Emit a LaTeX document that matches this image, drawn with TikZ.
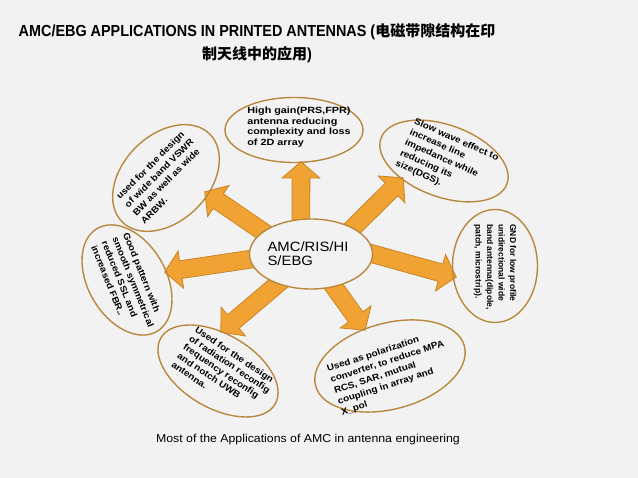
\documentclass[tikz,border=0pt]{standalone}
\usepackage{fontspec}
\setmainfont{Liberation Sans}
\newfontfamily\titlefont{Liberation Sans}[FakeStretch=0.9]
\newfontfamily\notefont{Liberation Sans}[FakeStretch=1.1]
\newfontfamily\widefont{Liberation Sans}[FakeStretch=1.2]
\newfontfamily\hubfont{Liberation Sans}[FakeStretch=1.1]
\newfontfamily\capfont{Liberation Sans}[FakeStretch=1.07]
\newfontfamily\cjk{Noto Sans CJK SC}
\usetikzlibrary{shapes.geometric,shapes.arrows,calc}

\definecolor{bgcol}{HTML}{F2F2F2}
\definecolor{ringcol}{HTML}{B8883E}
\definecolor{arrfill}{HTML}{F0A332}
\definecolor{arredge}{HTML}{C98628}

\pgfdeclarelayer{backdrop}
\pgfdeclarelayer{arrowlayer}
\pgfsetlayers{backdrop,arrowlayer,main}

% fat arrow from a hub border point (pushed a bit inside) to a tip coordinate
\newcommand{\fatarrow}[3]{%
  \begin{pgfonlayer}{arrowlayer}
  \coordinate (tmptail) at ($(#2)!-6pt!(#3)$);
  \path let \p1=($(#3)-(tmptail)$), \n1={veclen(\x1,\y1)}, \n2={atan2(\y1,\x1)} in
    node[bigarrow, anchor=tail, minimum height=\n1, rotate=\n2] (#1) at (tmptail) {};
  \end{pgfonlayer}}

\begin{document}
\begin{tikzpicture}[x=1pt, y=1pt,
    ring/.style={ellipse, draw=ringcol, line width=1.4pt, inner sep=0pt},
    note/.style={align=left, font=\notefont\bfseries\fontsize{9}{11.5}\selectfont},
    bigarrow/.style={single arrow, draw=arredge, fill=arrfill, line width=0.8pt,
        inner xsep=0pt, inner ysep=8.5pt, minimum width=37pt,
        single arrow head extend=10pt, single arrow tip angle=98}]

    \begin{pgfonlayer}{backdrop}
    \fill[bgcol] (0,0) rectangle (638,478);
    \end{pgfonlayer}

    % title
    \node[align=center, font=\titlefont\bfseries\fontsize{16}{23}\selectfont] (title) at (257,435)
        {AMC/EBG APPLICATIONS IN PRINTED ANTENNAS ({\cjk\fontsize{15}{23}\selectfont 电磁带隙结构在印}\\{\cjk\fontsize{15}{23}\selectfont 制天线中的应用})};

    % centre
    \node[ring, fill=bgcol, minimum width=123pt, minimum height=70pt] (hub) at (311,224) {};
    \node[align=left, font=\hubfont\fontsize{13.5}{14}\selectfont] (hubtext) at (308,224) {AMC/RIS/HI\\S/EBG};

    % application ellipses
    \node[ring, minimum width=138pt, minimum height=65pt] (gain) at (294,348) {};
    \node[ring, minimum width=124pt, minimum height=86pt, rotate=45] (vswr) at (166,300) {};
    \node[ring, minimum width=134pt, minimum height=72pt, rotate=-20] (slow) at (444,317) {};
    \node[ring, minimum width=85pt, minimum height=113pt] (gnd) at (495,212) {};
    \node[ring, minimum width=119pt, minimum height=78pt, rotate=-60] (pattern) at (127,198) {};
    \node[ring, minimum width=132pt, minimum height=74pt, rotate=-30] (reconf) at (218,107) {};
    \node[ring, minimum width=154pt, minimum height=86pt, rotate=15] (polar) at (390,112) {};

    % texts
    \node[note, font=\widefont\bfseries\fontsize{9}{10.5}\selectfont] (gaintext) at (299,351) {High gain(PRS,FPR)\\antenna reducing\\complexity and loss\\of 2D  array};
    \node[note, rotate=45] (vswrtext) at (163,301) {used for the design\\of wide band VSWR\\BW as well as wide\\ARBW.};
    \node[note, rotate=-24] (slowtext) at (447,317) {Slow wave effect to\\increase line\\impedance while\\reducing its\\size(DGS).};
    \node[note, rotate=-90, font=\bfseries\fontsize{8.5}{11.5}\selectfont] (gndtext) at (495,211) {GND for low profile\\unidirectional wide\\band antenna(dipole,\\patch, microstrip).};
    \node[note, rotate=-68] (patterntext) at (128,194) {Good pattern with\\smooth symmetrical\\reduced SSL and\\increased FBR..};
    \node[note, rotate=-34, font=\notefont\bfseries\fontsize{9}{10.5}\selectfont] (reconftext) at (224,105) {Used for the design\\of radiation reconfig\\frequency reconfig\\and notch UWB\\antenna.};
    \node[note, rotate=18] (polartext) at (391,105) {Used  as polarization\\converter, to reduce MPA\\RCS, SAR, mutual\\coupling in array and\\X\_pol};

    % arrow tips
    \coordinate (tipgain) at (301,316);
    \coordinate (tipvswr) at (205,286);
    \coordinate (tipslow) at (403,300);
    \coordinate (tipgnd) at (456,201);
    \coordinate (tippattern) at (165,206);
    \coordinate (tipreconf) at (221,146);
    \coordinate (tippolar) at (365,148);

    % arrows
    \fatarrow{again}{hub.106}{tipgain}
    \fatarrow{avswr}{hub.155}{tipvswr}
    \fatarrow{aslow}{hub.32}{tipslow}
    \fatarrow{agnd}{hub.0}{tipgnd}
    \fatarrow{apattern}{hub.185}{tippattern}
    \fatarrow{areconf}{hub.222}{tipreconf}
    \fatarrow{apolar}{hub.-55}{tippolar}

    % caption
    \node[font=\capfont\fontsize{11.5}{13}\selectfont] (caption) at (308,38) {Most of the Applications of AMC in antenna engineering};
\end{tikzpicture}
\end{document}
